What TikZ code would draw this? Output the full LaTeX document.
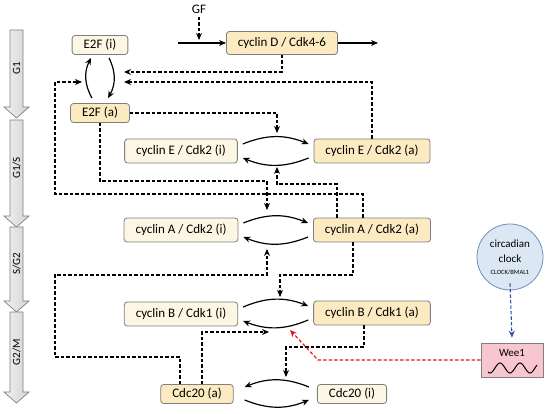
\documentclass[tikz,border=0pt]{standalone}
\usepackage{fontspec}
\setmainfont{Carlito}
\usetikzlibrary{arrows.meta}
\definecolor{actFill}{HTML}{FCEAC0}
\definecolor{inFill}{HTML}{FEF6E4}
\definecolor{boxLine}{HTML}{7F7F7F}
\definecolor{clockFill}{HTML}{DCE7F4}
\definecolor{clockLine}{HTML}{6F8FBF}
\definecolor{clockArrow}{HTML}{2E54A0}
\definecolor{weeFill}{HTML}{F8C6D0}
\definecolor{weeRed}{HTML}{E3151B}

\begin{document}
\begin{tikzpicture}[x=1pt, y=-1pt, >={Stealth[length=7pt,width=6pt]},
      every node/.append style={font=\fontsize{13}{15}\selectfont}]
    \tikzstyle{molbox} = [draw=boxLine, line width=0.8pt, rounded corners=3pt, inner xsep=11.5pt, inner ysep=0pt, minimum height=24pt]
    \tikzstyle{act} = [molbox, fill=actFill]
    \tikzstyle{inact} = [molbox, fill=inFill]
    \tikzstyle{slim} = [minimum height=19pt]
    \tikzstyle{conv} = [->, line width=1.2pt]
    \tikzstyle{reg} = [->, line width=1.1pt, dash pattern=on 3.5pt off 2pt]
    \tikzstyle{phase} = [draw=gray, line width=0.7pt, left color=gray!10, right color=gray!35]
    \useasboundingbox (0,0) rectangle (550,414);

    \foreach \ya/\yb/\lab in {30/118/G1, 120/227/{G1/S}, 227/312/{S/G2}, 312/403/{G2/M}}
      \draw[phase] (10,\ya) -- (23,\ya) -- (23,\yb-11) -- (29,\yb-11) -- (16.5,\yb) -- (4,\yb-11) -- (10,\yb-11) -- cycle
        node[rotate=90, font=\fontsize{11}{13}\selectfont] at (16.5,{(\ya+\yb-11)/2}) {\lab};

    \node[inact, slim] (e2fi) at (100,45) {E2F (i)};
    \node[act, slim] (e2fa) at (100,113) {E2F (a)};
    \node[act, minimum height=23pt] (cycD) at (282,43) {cyclin D / Cdk4-6};
    \node (gf) at (199,9) {GF};
    \node[inact] (cycEi) at (181,151) {cyclin E / Cdk2 (i)};
    \node[act] (cycEa) at (372,151) {cyclin E / Cdk2 (a)};
    \node[inact] (cycAi) at (181,230) {cyclin A / Cdk2 (i)};
    \node[act] (cycAa) at (372,230) {cyclin A / Cdk2 (a)};
    \node[inact] (cycBi) at (181,314) {cyclin B / Cdk1 (i)};
    \node[act] (cycBa) at (372,313) {cyclin B / Cdk1 (a)};
    \node[act, slim] (cdcA) at (197,394) {Cdc20 (a)};
    \node[inact, slim] (cdcI) at (352,394) {Cdc20 (i)};
    \node[circle, draw=clockLine, fill=clockFill, line width=0.8pt, minimum size=66pt, inner sep=0pt,
          align=center, font=\fontsize{11}{15}\selectfont] (clock) at (510,257)
          {circadian\\clock\\[-3pt]{\fontsize{6.5}{8}\selectfont CLOCK/BMAL1}};
    \node[draw=boxLine, fill=weeFill, line width=0.8pt, minimum width=62pt, minimum height=34pt] (wee) at (512,360) {};
    \node[font=\fontsize{11}{13}\selectfont] (weeName) at (512,353) {Wee1};
    \draw[line width=1pt] plot[domain=0:49, samples=50, smooth] ({488+\x},{368-5*sin(18*\x-126)});

    \coordinate (inD) at (178,43);
    \coordinate (outD) at (378,43);
    \coordinate (gfTip) at (199,40);
    \coordinate (tDE) at (124,72);
    \coordinate (tEE) at (124,82);
    \coordinate (tAE) at (82,82);
    \coordinate (tEup) at (277,133);
    \coordinate (tEdn) at (277,167);
    \coordinate (tAup) at (267,210);
    \coordinate (tAdn) at (267,249);
    \coordinate (tBup) at (280,297);
    \coordinate (tBdn) at (269,332);
    \coordinate (tCup) at (286,377);
    \coordinate (tRed) at (290,330);

    % conversions
    \draw[conv] (inD) -- (cycD.west);
    \draw[conv] (cycD.east) -- (outD);
    \draw[conv] ([xshift=-8pt,yshift=5pt]e2fa.north) to[bend left=28] ([xshift=-9pt,yshift=-3pt]e2fi.south);
    \draw[conv] ([xshift=9pt,yshift=-3pt]e2fi.south) to[bend left=28] ([xshift=8pt,yshift=5pt]e2fa.north);
    \foreach \lo/\hi in {cycEi/cycEa, cycAi/cycAa, cycBi/cycBa} {
      \draw[conv] ([xshift=5pt,yshift=7pt]\lo.east) to[bend left=22] ([xshift=-5pt,yshift=7pt]\hi.west);
      \draw[conv] ([xshift=-5pt,yshift=-7pt]\hi.west) to[bend left=22] ([xshift=5pt,yshift=-7pt]\lo.east);
    }
    \draw[conv] ([xshift=-8pt,yshift=7pt]cdcI.west) to[bend right=22] ([xshift=11pt,yshift=7pt]cdcA.east);
    \draw[conv] ([xshift=11pt,yshift=-6pt]cdcA.east) to[bend right=22] ([xshift=-8pt,yshift=-6pt]cdcI.west);

    % regulations
    \draw[reg] (gf) -- (gfTip);
    \draw[reg] (cycD.south) |- (tDE);
    \draw[reg] (cycEa.north) |- (tEE);
    \draw[reg] (e2fa.east) -| (tEup);
    \draw[reg] (e2fa.south) |- (267,181) -- (tAup);
    \draw[reg] ([xshift=-35pt]cycAa.north) |- (277,184) -- (tEdn);
    \draw[reg] ([xshift=-9pt]cycAa.north) |- (55,194) |- (tAE);
    \draw[reg] ([xshift=-17pt]cdcA.north) |- (55,357) |- (267,275) -- (tAdn);
    \draw[reg] ([xshift=-19pt]cycAa.south) |- (280,275) -- (tBup);
    \draw[reg] ([xshift=5pt]cdcA.north) |- (tBdn);
    \draw[reg] ([xshift=-8pt]cycBa.south) |- (286,347) -- (tCup);
    \draw[reg, weeRed] (wee.west) -- (318,360) -- (tRed);
    \draw[reg, clockArrow] ([yshift=7pt]clock.south) -- ([yshift=5pt]wee.north);
\end{tikzpicture}
\end{document}
